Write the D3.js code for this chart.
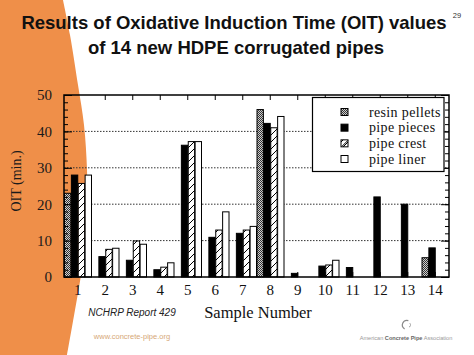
<!DOCTYPE html>
<html><head><meta charset="utf-8">
<script src="https://cdn.jsdelivr.net/npm/d3@7"></script>
<style>body{margin:0;background:#fff;}svg{display:block;}</style>
</head><body>
<svg id="c" width="474" height="355"></svg>
<script>
const categories = ["1","2","3","4","5","6","7","8","9","10","11","12","13","14"];
const seriesNames = ["resin pellets","pipe pieces","pipe crest","pipe liner"];
const resinPellets = [23, null, null, null, null, null, null, 46, null, null, null, null, null, 5.3];
const pipePieces   = [28, 5.6, 4.6, 2, 36.2, 10.9, 12, 42.2, 1, 3, 2.6, 22, 20, 8];
const pipeCrest    = [25.7, 7.6, 9.9, 2.7, 37.2, 12.9, 12.9, 41, null, 3.3, null, null, null, null];
const pipeLiner    = [28, 7.9, 9, 3.9, 37.2, 17.9, 13.9, 44.1, null, 4.6, null, null, null, null];
const yTicks = [0,10,20,30,40,50];

const seriesValues = [resinPellets, pipePieces, pipeCrest, pipeLiner];
const svg = d3.select("#c");
const defs = svg.append("defs");

// patterns
const pStip = defs.append("pattern").attr("id","stip").attr("patternUnits","userSpaceOnUse").attr("width",2).attr("height",2);
pStip.append("rect").attr("width",2).attr("height",2).attr("fill","#d0d0d0");
pStip.append("rect").attr("width",1).attr("height",1).attr("fill","#333");
pStip.append("rect").attr("x",1).attr("y",1).attr("width",1).attr("height",1).attr("fill","#333");
const pHatch = defs.append("pattern").attr("id","hatch").attr("patternUnits","userSpaceOnUse").attr("width",7).attr("height",7);
pHatch.append("rect").attr("width",7).attr("height",7).attr("fill","#fff");
pHatch.append("path").attr("d","M-1,8 L8,-1 M-1,1 L1,-1 M6,8 L8,6").attr("stroke","#000").attr("stroke-width",1);
const fills = ["url(#stip)","#000","url(#hatch)","#fff"];

// orange background shape
const orangePts = [[63,0],[70,35],[78,85],[84,125],[87,170],[87,210],[85,245],[81,275],[75,310],[67,355]];
const edge = d3.line().curve(d3.curveCatmullRom)(orangePts);
svg.append("path").attr("d", edge + " L0,355 L0,0 Z").attr("fill","#EF8F49");

// title
svg.append("text").attr("x",234).attr("y",29).attr("text-anchor","middle")
  .attr("font-family","Liberation Sans, Arial, sans-serif").attr("font-weight","bold").attr("font-size",18.5)
  .attr("fill","#111").text("Results of Oxidative Induction Time (OIT) values");
svg.append("text").attr("x",236).attr("y",54).attr("text-anchor","middle")
  .attr("font-family","Liberation Sans, Arial, sans-serif").attr("font-weight","bold").attr("font-size",18.5)
  .attr("fill","#111").text("of 14 new HDPE corrugated pipes");
svg.append("text").attr("x",457).attr("y",18).attr("text-anchor","middle")
  .attr("font-family","Liberation Sans, Arial, sans-serif").attr("font-size",7.5).attr("fill","#333").text("29");

// scales
const L=64, R=449, T=95, B=277;
const x = d3.scaleBand().domain(categories).range([L,R]).padding(0);
const xs = d3.scaleBand().domain(seriesNames).range([0,x.bandwidth()]).padding(0);
const y = d3.scaleLinear().domain([0,50]).range([B,T]);

// gridlines
svg.append("g").selectAll("line").data([10,20,30,40]).join("line")
  .attr("x1",L).attr("x2",R).attr("y1",d=>y(d)).attr("y2",d=>y(d))
  .attr("stroke","#333").attr("stroke-width",1).attr("stroke-dasharray","1.5,1.5");

// bars
seriesNames.forEach((s,si)=>{
  const data = seriesValues[si].map((v,i)=>({c:categories[i],v})).filter(d=>d.v!=null);
  svg.append("g").selectAll("rect").data(data).join("rect")
    .attr("x",d=>x(d.c)+xs(s)+0.5).attr("width",xs.bandwidth()-0.5)
    .attr("y",d=>y(d.v)).attr("height",d=>B-y(d.v))
    .attr("fill",fills[si]).attr("stroke","#000").attr("stroke-width",1);
});

// axes ticks
const minor = d3.range(0,51,2);
const gL = svg.append("g").attr("transform",`translate(${L},0)`)
  .call(d3.axisRight(y).tickValues(minor).tickSize(4).tickFormat(""));
const gL2 = svg.append("g").attr("transform",`translate(${L},0)`)
  .call(d3.axisRight(y).tickValues(yTicks).tickSize(8).tickFormat(""));
const gR = svg.append("g").attr("transform",`translate(${R},0)`)
  .call(d3.axisLeft(y).tickValues(minor).tickSize(4).tickFormat(""));
const gR2 = svg.append("g").attr("transform",`translate(${R},0)`)
  .call(d3.axisLeft(y).tickValues(yTicks).tickSize(8).tickFormat(""));
const bounds = categories.slice(1);
const gT = svg.append("g").attr("transform",`translate(0,${T})`)
  .call(d3.axisBottom(x).tickValues(bounds).tickSize(5).tickFormat("").offset(-x.bandwidth()/2));
const gB = svg.append("g").attr("transform",`translate(0,${B})`)
  .call(d3.axisTop(x).tickValues(bounds).tickSize(5).tickFormat("").offset(-x.bandwidth()/2));
// x tick labels
const gX = svg.append("g").attr("transform",`translate(0,${B})`)
  .call(d3.axisBottom(x).tickSize(0).tickPadding(7));
gX.select(".domain").remove();
gX.selectAll("text").attr("font-family","Liberation Serif, Times New Roman, serif").attr("font-size",15).attr("fill","#111");
// y tick labels
const gY = svg.append("g").attr("transform",`translate(${L},0)`)
  .call(d3.axisLeft(y).tickValues(yTicks).tickSize(0).tickPadding(12));
gY.select(".domain").remove();
gY.selectAll("text").attr("font-family","Liberation Serif, Times New Roman, serif").attr("font-size",15).attr("fill","#1a1a1a");
[gL,gL2,gR,gR2,gT,gB].forEach(g=>{g.select(".domain").remove(); g.selectAll("line").attr("stroke","#000").attr("stroke-width",1);});

// frame
svg.append("rect").attr("x",L).attr("y",T).attr("width",R-L).attr("height",B-T)
  .attr("fill","none").attr("stroke","#000").attr("stroke-width",1.5);

// axis titles
svg.append("text").attr("transform","translate(21,181) rotate(-90)").attr("text-anchor","middle")
  .attr("font-family","Liberation Serif, Times New Roman, serif").attr("font-size",14).attr("fill","#1a1a1a").text("OIT (min.)");
svg.append("text").attr("x",258).attr("y",318).attr("text-anchor","middle")
  .attr("font-family","Liberation Serif, Times New Roman, serif").attr("font-size",16.5).attr("fill","#111").text("Sample Number");

// legend
const lg = svg.append("g");
lg.append("rect").attr("x",312.5).attr("y",97.5).attr("width",131.5).attr("height",74)
  .attr("fill","#fff").attr("stroke","#000").attr("stroke-width",1.2);
const ly = d3.scalePoint().domain(seriesNames).range([112,159]);
seriesNames.forEach((s,si)=>{
  lg.append("rect").attr("x",341).attr("y",ly(s)-3.5).attr("width",7).attr("height",7)
    .attr("fill",fills[si]).attr("stroke","#000").attr("stroke-width",1);
  if(si===2) lg.append("line").attr("x1",342).attr("y1",ly(s)+3).attr("x2",348).attr("y2",ly(s)-3).attr("stroke","#000");
  lg.append("text").attr("x",369).attr("y",ly(s)+4.5)
    .attr("font-family","Liberation Serif, Times New Roman, serif").attr("font-size",14).attr("letter-spacing",0.35)
    .attr("fill","#111").text(s);
});

// footer
svg.append("text").attr("x",132).attr("y",316).attr("text-anchor","middle")
  .attr("font-family","Liberation Sans, Arial, sans-serif").attr("font-style","italic").attr("font-size",10).attr("fill","#222").text("NCHRP Report 429");
svg.append("text").attr("x",132).attr("y",339).attr("text-anchor","middle")
  .attr("font-family","Liberation Sans, Arial, sans-serif").attr("font-size",7.5).attr("fill","#D6A877").text("www.concrete-pipe.org");
const ac = svg.append("text").attr("x",406).attr("y",340).attr("text-anchor","middle")
  .attr("font-family","Liberation Sans, Arial, sans-serif").attr("font-size",5.6).attr("fill","#999");
ac.append("tspan").text("American ");
ac.append("tspan").attr("font-weight","bold").attr("fill","#666").text("Concrete Pipe");
ac.append("tspan").text(" Association");
svg.append("path").attr("d",d3.arc()({innerRadius:4,outerRadius:5.2,startAngle:-2.6,endAngle:0.3}))
  .attr("transform","translate(407,325)").attr("fill","#888");
svg.append("path").attr("d",d3.arc()({innerRadius:2,outerRadius:2.8,startAngle:0.8,endAngle:2.6}))
  .attr("transform","translate(408,325)").attr("fill","#888");
</script>
</body></html>
